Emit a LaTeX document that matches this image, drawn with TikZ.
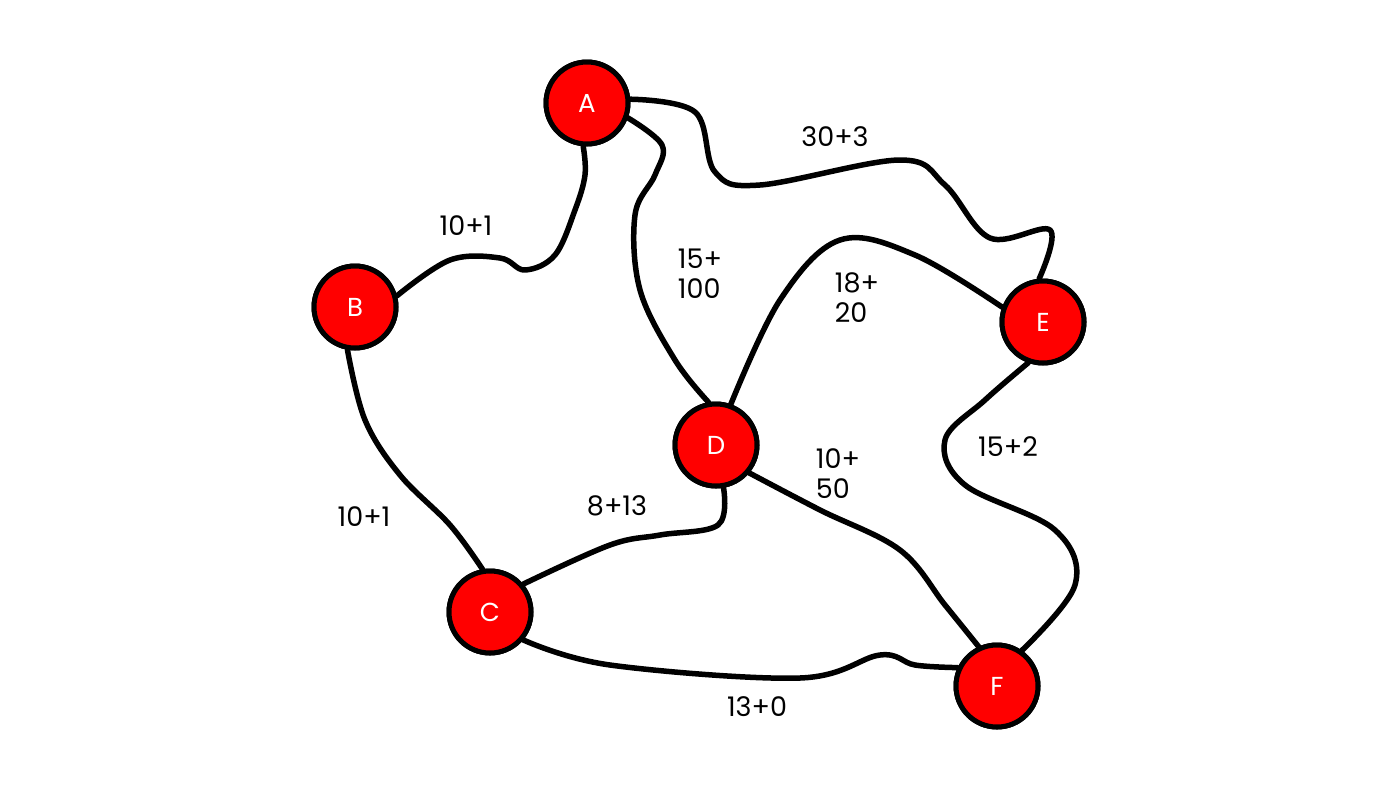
\documentclass[tikz,border=0pt]{standalone}
\usepackage{fontspec}
\setmainfont{Poppins}
\begin{document}
\begin{tikzpicture}[x=1pt,y=-1pt,
  vtx/.style={circle,fill=red,draw=black,line width=5pt,minimum size=82pt,inner sep=0pt,text=white,font=\fontsize{26}{28}\selectfont},
  edge/.style={line width=5.5pt,line cap=round,line join=round},
  lbl/.style={font=\fontsize{27}{30}\selectfont,align=left,inner sep=0pt}]
\useasboundingbox[fill=white] (0,0) rectangle (1400,788);
\node[vtx] (A) at (587,103) {A};
\node[vtx] (B) at (355,307) {B};
\node[vtx] (C) at (490,612) {C};
\node[vtx] (D) at (716,445) {D};
\node[vtx] (E) at (1043,322) {E};
\node[vtx] (F) at (997,686) {F};
\begin{scope}[on background layer/.style={}]
\draw[edge] plot[smooth,tension=0.6] coordinates {(B.15) (450,260) (500,258) (525,270) (555,255) (575,210) (585,175) (A.265)};
\draw[edge] plot[smooth,tension=0.6] coordinates {(A.-20) (662,145) (655,175) (635,215) (640,290) (675,360) (D.100)};
\draw[edge] plot[smooth,tension=0.6] coordinates {(A.5) (695,112) (715,172) (760,185) (900,160) (945,185) (990,238) (1050,230) (E.95)};
\draw[edge] plot[smooth,tension=0.6] coordinates {(B.260) (365,420) (400,475) (450,525) (C.100)};
\draw[edge] plot[smooth,tension=0.6] coordinates {(D.280) (718,525) (660,535) (610,545) (C.40)};
\draw[edge] plot[smooth,tension=0.6] coordinates {(D.70) (780,300) (840,240) (915,255) (E.160)};
\draw[edge] plot[smooth,tension=0.6] coordinates {(D.-40) (820,510) (900,550) (945,605) (F.115)};
\draw[edge] plot[smooth,tension=0.6] coordinates {(C.-40) (610,665) (800,678) (880,655) (915,665) (F.155)};
\draw[edge] plot[smooth,tension=0.6] coordinates {(E.-110) (985,400) (945,440) (965,485) (1055,530) (1075,585) (F.55)};
\end{scope}
\node[vtx] at (A) {A};
\node[vtx] at (B) {B};
\node[vtx] at (C) {C};
\node[vtx] at (D) {D};
\node[vtx] at (E) {E};
\node[vtx] at (F) {F};
\node[lbl] (l1) at (835,137) {30+3};
\node[lbl] (l2) at (466,226) {10+1};
\node[lbl] (l3) at (700,274) {15+\\100};
\node[lbl] (l4) at (857,298) {18+\\20};
\node[lbl] (l5) at (838,474) {10+\\50};
\node[lbl] (l6) at (1008,447) {15+2};
\node[lbl] (l7) at (364,517) {10+1};
\node[lbl] (l8) at (617,506) {8+13};
\node[lbl] (l9) at (757,707) {13+0};
\end{tikzpicture}
\end{document}
